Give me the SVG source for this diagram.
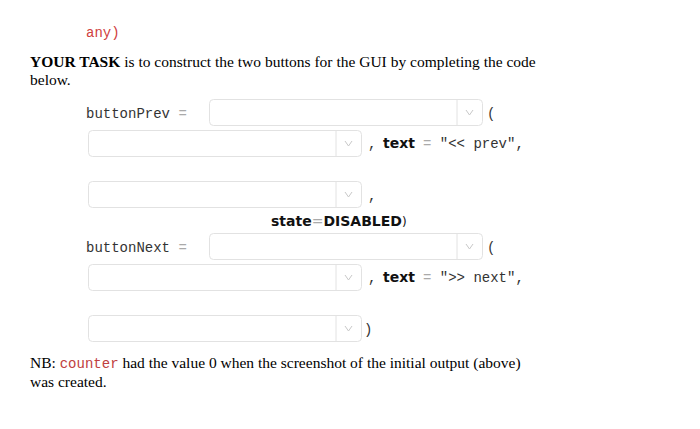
<svg xmlns="http://www.w3.org/2000/svg" width="700" height="429" viewBox="0 0 700 429">
<style>
.s{font-family:"Liberation Serif",serif;font-size:15.5px;fill:#000}
.m{font-family:"Liberation Mono",monospace;font-size:14px;fill:#333}
.b{font-family:"DejaVu Sans",sans-serif;font-size:14px;font-weight:bold;fill:#111}
.box{fill:#fff;stroke:#e2e2e2;stroke-width:1}
.dv{stroke:#e2e2e2}
.ch{fill:none;stroke:#c8c8c8;stroke-width:1}
</style>
<defs>
<g id="dd"><rect class="box" x="0.5" y="0.5" width="273" height="26" rx="4"/><line class="dv" x1="248" y1="1" x2="248" y2="26"/><polyline class="ch" points="257,11 260.5,16 264,11"/></g>
</defs>
<rect width="700" height="429" fill="#fff"/>
<text x="86" y="37" class="m" style="fill:#d04040">any)</text>
<text x="30" y="67" class="s"><tspan font-weight="bold">YOUR TASK</tspan> is to construct the two buttons for the GUI by completing the code</text>
<text x="30" y="85" class="s">below.</text>
<g id="prev">
<text x="86" y="118" class="m">buttonPrev <tspan fill="#aaa">=</tspan></text>
<use href="#dd" x="209" y="99"/>
<text x="487" y="118" class="m">(</text>
<use href="#dd" x="88" y="130"/>
<text x="368" y="148" class="m">,</text>
<text x="383" y="148" class="b">text</text>
<text x="423" y="148" class="m"><tspan fill="#aaa">=</tspan> "&lt;&lt; prev",</text>
<use href="#dd" x="88" y="181"/>
<text x="368" y="200" class="m">,</text>
<text x="271" y="226" class="b">state<tspan fill="#aaa" font-weight="normal">=</tspan>DISABLED<tspan font-weight="normal" font-size="12">)</tspan></text>
</g>
<g id="next">
<text x="86" y="252" class="m">buttonNext <tspan fill="#aaa">=</tspan></text>
<use href="#dd" x="209" y="233"/>
<text x="487" y="252" class="m">(</text>
<use href="#dd" x="88" y="264"/>
<text x="368" y="282" class="m">,</text>
<text x="383" y="282" class="b">text</text>
<text x="423" y="282" class="m"><tspan fill="#aaa">=</tspan> "&gt;&gt; next",</text>
<use href="#dd" x="88" y="315"/>
<text x="364" y="334" class="m">)</text>
</g>
<text x="30" y="368" class="s">NB: <tspan class="m" style="fill:#c04040">counter</tspan> had the value 0 when the screenshot of the initial output (above)</text>
<text x="30" y="387" class="s">was created.</text>
</svg>
